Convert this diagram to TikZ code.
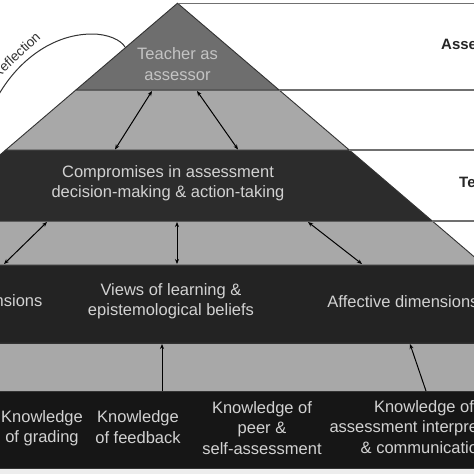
\documentclass[tikz,border=0pt]{standalone}
\usepackage{fontspec}
\setmainfont{Liberation Sans}
\usetikzlibrary{arrows.meta}
\definecolor{topgray}{HTML}{6E6E6E}
\definecolor{lightband}{HTML}{A8A8A8}
\definecolor{darkA}{HTML}{2C2C2C}
\definecolor{darkB}{HTML}{232323}
\definecolor{darkC}{HTML}{161616}
\definecolor{edgec}{HTML}{333333}
\definecolor{txtlight}{HTML}{D2D2D2}
\definecolor{txttop}{HTML}{C4C4C4}
\definecolor{rulec}{HTML}{707070}
\tikzset{
  band/.style={draw=edgec, line width=0.9pt},
  rowline/.style={draw=rulec, line width=1.1pt},
  lbl/.style={align=center, inner sep=0pt, text=txtlight, font=\fontsize{16.5}{20.5}\selectfont},
  toplbl/.style={lbl, text=txttop},
  sidelbl/.style={anchor=west, inner sep=0pt, text=black!85, font=\bfseries\fontsize{15}{18}\selectfont},
  dbl/.style={{Stealth[length=5pt,width=4pt]}-{Stealth[length=5pt,width=4pt]}, line width=1pt, black},
  sgl/.style={-{Stealth[length=5pt,width=4pt]}, line width=1pt, black},
  refl/.style={draw=black!80, line width=1pt}
}
\begin{document}
\begin{tikzpicture}[x=1pt,y=-1pt]
\clip (0,0) rectangle (474,474);
\fill[white] (0,0) rectangle (474,474);
% bands of the pyramid
\fill[white!93!black] (-10,468) rectangle (490,480);
\path[band, fill=darkC] (-300,391) -- (700,391) -- (700,468) -- (-300,468) -- cycle;
\path[band, fill=lightband] (-250,343) -- (650,343) -- (650,391) -- (-250,391) -- cycle;
\path[band, fill=darkB] (-220.2,343) -- (-128.8,265) -- (483.8,265) -- (575.2,343) -- cycle;
\path[band, fill=lightband] (-128.8,265) -- (-77.3,221) -- (432.3,221) -- (483.8,265) -- cycle;
\path[band, fill=darkA] (-77.3,221) -- (5.7,150) -- (349.3,150) -- (432.3,221) -- cycle;
\path[band, fill=lightband] (5.7,150) -- (75.9,90) -- (279.1,90) -- (349.3,150) -- cycle;
\path[band, fill=topgray] (75.9,90) -- (177.5,3.2) -- (279.1,90) -- cycle;
% right-hand rows
\coordinate (apex) at (177.5,3.5);
\coordinate (r1) at (279.1,90);
\coordinate (r2) at (349.3,150);
\coordinate (r3) at (432.3,221);
\draw[rowline] (apex) -- (480,3.5);
\draw[rowline] (r1) -- (480,90);
\draw[rowline] (r2) -- (480,150);
\draw[rowline] (r3) -- (480,221);
\node[sidelbl] (lassessor) at (441,46) {Assessor identity (re)construction};
\node[sidelbl] (ltalip) at (459,184) {Teacher assessment literacy in practice};
% reflection arc
\coordinate (rfs) at (-10,112);
\coordinate (rfe) at (125,47);
\draw[refl] (rfs) .. controls (10,65) and (50,34) .. (92,34) .. controls (108,34) and (121,40) .. (rfe);
\node[rotate=43, inner sep=0pt, text=black!80, font=\fontsize{13.5}{16}\selectfont] (rfl) at (16,55) {Reflection};
% texts
\node[toplbl] (teacher) at (177.5,64) {Teacher as\\assessor};
\node[lbl] (comp) at (168,183) {Compromises in assessment\\decision-making \& action-taking};
\node[lbl] (views) at (171,301) {Views of learning \&\\epistemological beliefs};
\node[lbl] (cog) at (-36,302) {Cognitive dimensions};
\node[lbl] (aff) at (403,302) {Affective dimensions};
\node[lbl] (k1) at (42,428) {Knowledge\\of grading};
\node[lbl] (k2) at (138,427) {Knowledge\\of feedback};
\node[lbl] (k3) at (262,428) {Knowledge of\\peer \&\\self-assessment};
\node[lbl] (k4) at (424,427) {Knowledge of\\assessment interpretation\\\& communication};
% arrow end points
\coordinate (a1t) at (152,91);
\coordinate (a1b) at (115,149.5);
\coordinate (a2t) at (197,91);
\coordinate (a2b) at (238,149.5);
\coordinate (a3t) at (47,222);
\coordinate (a3b) at (4,264);
\coordinate (a4t) at (177,222);
\coordinate (a4b) at (177,264);
\coordinate (a5t) at (308,222);
\coordinate (a5b) at (362,264);
\coordinate (a6t) at (162,344);
\coordinate (a6b) at (162,391);
\coordinate (a7t) at (410,344);
\coordinate (a7b) at (426,391);
\draw[dbl] (a1t) -- (a1b);
\draw[dbl] (a2t) -- (a2b);
\draw[dbl] (a3t) -- (a3b);
\draw[dbl] (a4t) -- (a4b);
\draw[dbl] (a5t) -- (a5b);
\draw[sgl] (a6b) -- (a6t);
\draw[sgl] (a7b) -- (a7t);
\end{tikzpicture}
\end{document}
